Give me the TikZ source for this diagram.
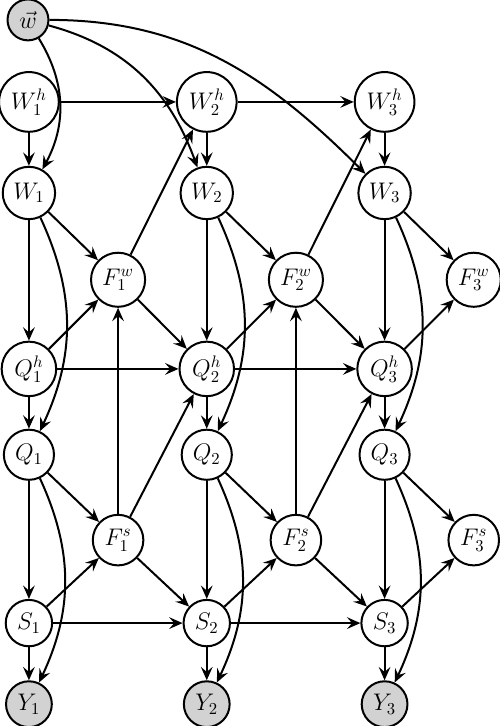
\documentclass[tikz,border=0pt]{standalone}
\usepackage{xcolor}
\usepackage{tikz}
\usetikzlibrary{arrows.meta}

\begin{document}
\begin{tikzpicture}[line width=1.2pt,
    >={Stealth[length=8pt,width=7pt,inset=3pt]},
    var/.style={circle, draw, font=\Large, inner sep=3.3pt},
    obs/.style={var, fill=gray!35}]
\useasboundingbox (0,0) rectangle (10.54,15.31);

% shared weather
\node[obs, inner sep=3.5pt] (w) at (0.59,14.89) {$\vec{w}$};

% one column per step
\foreach \i in {1,2,3} {
    \pgfmathsetmacro{\x}{0.61+(\i-1)*3.75}
    \pgfmathsetmacro{\xf}{\x+1.88}
    \node[var] (Wh\i) at (\x,13.16) {$W^h_\i$};
    \node[var] (W\i) at (\x,11.24) {$W_\i$};
    \node[var] (Fw\i) at (\xf,9.41) {$F^w_\i$};
    \node[var] (Qh\i) at (\x,7.53) {$Q^h_\i$};
    \node[var] (Q\i) at (\x,5.72) {$Q_\i$};
    \node[var] (Fs\i) at (\xf,3.92) {$F^s_\i$};
    \node[var] (S\i) at (\x,2.17) {$S_\i$};
    \node[obs] (Y\i) at (\x,0.46) {$Y_\i$};
}

% inside a column
\foreach \i in {1,2,3} {
    \draw[->] (Wh\i) -- (W\i);
    \draw[->] (W\i) -- (Qh\i);
    \draw[->] (W\i) -- (Fw\i);
    \draw[->] (W\i) to[bend left=25] (Q\i);
    \draw[->] (Qh\i) -- (Fw\i);
    \draw[->] (Qh\i) -- (Q\i);
    \draw[->] (Q\i) -- (S\i);
    \draw[->] (Q\i) -- (Fs\i);
    \draw[->] (Q\i) to[bend left=25] (Y\i);
    \draw[->] (S\i) -- (Fs\i);
    \draw[->] (S\i) -- (Y\i);
}

% from one column to the next
\foreach \i in {1,2} {
    \pgfmathtruncatemacro{\j}{\i+1}
    \draw[->] (Wh\i) -- (Wh\j);
    \draw[->] (Fw\i) -- (Wh\j);
    \draw[->] (Fw\i) -- (Qh\j);
    \draw[->] (Qh\i) -- (Qh\j);
    \draw[->] (Fs\i) -- (Fw\i);
    \draw[->] (Fs\i) -- (Qh\j);
    \draw[->] (Fs\i) -- (S\j);
    \draw[->] (S\i) -- (S\j);
}

% weather feeds every W
\draw[->] (w) to[bend left=30] (W1);
\draw[->] (w) to[out=-15,in=110] (W2);
\draw[->] (w) to[out=0,in=135] (W3);
\end{tikzpicture}
\end{document}
